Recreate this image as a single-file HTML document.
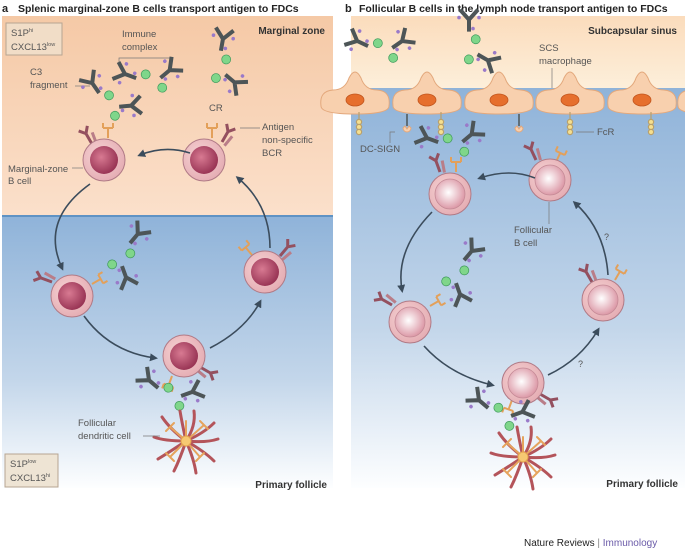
<!DOCTYPE html>
<html><head><meta charset="utf-8"><style>
body{margin:0;background:#fff;width:685px;height:552px;overflow:hidden;font-family:"Liberation Sans",sans-serif}
svg text{font-family:"Liberation Sans",sans-serif}
</style></head><body>
<svg width="685" height="552" viewBox="0 0 685 552" xmlns="http://www.w3.org/2000/svg">
<defs>
<linearGradient id="peach" x1="0" y1="0" x2="0" y2="1"><stop offset="0" stop-color="#f5c9a6"/><stop offset="1" stop-color="#fbe0cb"/></linearGradient>
<linearGradient id="blue" x1="0" y1="0" x2="0" y2="1"><stop offset="0" stop-color="#8fb3d9"/><stop offset="0.6" stop-color="#c3d6ea"/><stop offset="1" stop-color="#fdfeff"/></linearGradient>
<linearGradient id="sinus" x1="0" y1="0" x2="0" y2="1"><stop offset="0" stop-color="#fbdcbc"/><stop offset="1" stop-color="#fdf0dc"/></linearGradient>
<radialGradient id="nucA" cx="0.4" cy="0.4" r="0.6"><stop offset="0" stop-color="#d87a92"/><stop offset="1" stop-color="#9a3656"/></radialGradient>
<radialGradient id="nucB" cx="0.45" cy="0.45" r="0.6"><stop offset="0" stop-color="#ffffff"/><stop offset="1" stop-color="#d9909f"/></radialGradient>
<radialGradient id="cellg" cx="0.4" cy="0.4" r="0.7"><stop offset="0" stop-color="#f6d3d4"/><stop offset="1" stop-color="#e3a9b0"/></radialGradient>
<marker id="ah" markerWidth="8" markerHeight="8" refX="5" refY="4" orient="auto" markerUnits="userSpaceOnUse"><path d="M0,0 L8,4 L0,8 z" fill="#3b4c5c"/></marker>
<g id="cellA"><circle r="21" fill="url(#cellg)" stroke="#b07a86" stroke-width="1"/><circle r="14" fill="url(#nucA)"/></g>
<g id="cellB"><circle r="21" fill="url(#cellg)" stroke="#b07a86" stroke-width="1"/><circle r="15" fill="url(#nucB)" stroke="#c48a96" stroke-width="0.8"/></g>
<g id="bcr" stroke="#94505f" stroke-width="3" fill="none"><path d="M0,0 L0,-12 M0,-12 L-5,-18 M0,-12 L5,-18"/><path d="M4,2 L6,-10" stroke="#b97d88"/></g>
<g id="cr" stroke="#e3a05a" stroke-width="2" fill="none"><path d="M0,0 L0,-10 M-5,-10 L5,-10 M-5,-10 L-5,-15 M5,-10 L5,-15"/></g>
<g id="ab" stroke="#4d5557" stroke-width="4" fill="none" stroke-linecap="butt"><path d="M0,0 L0,-12 L-9,-22 M0,-12 L9,-22"/><circle cx="-10" cy="-14" r="1.8" fill="#9a7ac9" stroke="none"/><circle cx="10" cy="-14" r="1.8" fill="#9a7ac9" stroke="none"/><circle cx="4" cy="-3" r="1.8" fill="#9a7ac9" stroke="none"/></g>
<g id="ag"><circle r="4.5" fill="#7fd68a" stroke="#3f9a5c" stroke-width="0.7"/></g>
<g id="ic"><use href="#ab" transform="translate(-12,0) rotate(-60)"/><use href="#ab" transform="translate(12,4) rotate(60)"/><use href="#ag" x="-2" y="-2"/><use href="#ag" x="12" y="14"/></g>
<g id="fdc" fill="none" stroke="#b4545a" stroke-width="3" stroke-linecap="round">
<path d="M0,0 Q10,-15 8,-30 M0,0 Q18,-8 28,-18 M0,0 Q20,2 32,-2 M0,0 Q18,10 28,20 M0,0 Q8,18 10,32 M0,0 Q-6,18 -12,30 M0,0 Q-18,12 -28,18 M0,0 Q-22,0 -32,-4 M0,0 Q-16,-12 -24,-24 M0,0 Q-4,-18 -6,-30"/>
<g stroke="#e5a35c" stroke-width="2"><path d="M0,0 L18,-16 M14,-20 L22,-12 M0,0 L-16,16 M-20,12 L-12,20 M0,0 L-16,-14 M-20,-10 L-12,-18 M0,0 L14,16 M10,20 L18,12 M0,0 L0,-20"/></g>
<circle r="5" fill="#f6c972" stroke="#e2a24f" stroke-width="1"/></g>
<g id="mac"><path d="M-34,20 Q-36,5 -22,4 Q-10,4 -6,-8 Q0,-20 6,-8 Q10,4 22,4 Q36,5 34,20 Q34,28 0,28 Q-34,28 -34,20z" fill="#f8d0ae" stroke="#e3a87c" stroke-width="1"/><ellipse cx="0" cy="14" rx="9" ry="6" fill="#e66f2d" stroke="#c2561e" stroke-width="0.8"/></g>
<g id="fcr" stroke="#b9a06b" stroke-width="1.2"><line x1="0" y1="0" x2="0" y2="8"/><circle cy="10" r="2.6" fill="#f5df8f"/><circle cy="15" r="2.6" fill="#f5df8f"/><circle cy="20" r="2.6" fill="#f5df8f"/></g>
<g id="dcs"><line x1="0" y1="0" x2="0" y2="12" stroke="#4d5557" stroke-width="1.5"/><path d="M-4,14 A4,4 0 1,0 4,14 L2,12 L0,15 L-2,12z" fill="#f8d0ae" stroke="#e3a87c" stroke-width="1"/></g>
</defs>

<!-- Panel a -->
<rect x="2" y="16" width="331" height="200" fill="url(#peach)"/>
<rect x="2" y="216" width="331" height="272" fill="url(#blue)"/>
<line x1="2" y1="216" x2="333" y2="216" stroke="#5f93c4" stroke-width="2"/>
<text x="2" y="12" font-size="11" font-weight="bold" fill="#222">a</text>
<text x="18" y="12" font-size="10.5" font-weight="bold" fill="#222">Splenic marginal-zone B cells transport antigen to FDCs</text>
<rect x="6" y="23" width="56" height="32" fill="#f1ddc7" stroke="#b7a592"/>
<text x="11" y="36" font-size="9.5" fill="#555">S1P<tspan font-size="5.5" dy="-4">hi</tspan></text>
<text x="11" y="50" font-size="9.5" fill="#555">CXCL13<tspan font-size="5.5" dy="-4">low</tspan></text>
<text x="325" y="34" font-size="10" font-weight="bold" fill="#333" text-anchor="end">Marginal zone</text>
<text x="122" y="37" font-size="9.5" fill="#555">Immune</text>
<text x="122" y="50" font-size="9.5" fill="#555">complex</text>
<path d="M119,62 L119,58 L171,58 L171,62" fill="none" stroke="#777" stroke-width="0.7"/>
<text x="30" y="75" font-size="9.5" fill="#555">C3</text>
<text x="30" y="88" font-size="9.5" fill="#555">fragment</text>
<line x1="75" y1="86" x2="90" y2="86" stroke="#777" stroke-width="0.7"/>
<use href="#ic" transform="translate(148,76) rotate(-10)"/>
<use href="#ic" transform="translate(225,62) rotate(70)"/>
<use href="#ic" transform="translate(110,98) rotate(25)"/>
<text x="209" y="111" font-size="9.5" fill="#555">CR</text>
<text x="262" y="130" font-size="9.5" fill="#555">Antigen</text>
<text x="262" y="143" font-size="9.5" fill="#555">non-specific</text>
<text x="262" y="156" font-size="9.5" fill="#555">BCR</text>
<line x1="240" y1="128" x2="260" y2="128" stroke="#777" stroke-width="0.7"/>
<text x="8" y="172" font-size="9.5" fill="#555">Marginal-zone</text>
<text x="8" y="184" font-size="9.5" fill="#555">B cell</text>
<line x1="72" y1="168" x2="83" y2="168" stroke="#777" stroke-width="0.7"/>
<use href="#cr" transform="translate(108,138)"/>
<use href="#bcr" transform="translate(92,144) rotate(-30)"/>
<use href="#cr" transform="translate(212,138)"/>
<use href="#bcr" transform="translate(222,142) rotate(30)"/>
<use href="#cellA" x="104" y="160"/>
<use href="#cellA" x="204" y="160"/>
<path d="M190,153 Q165,145 140,155" fill="none" stroke="#3b4c5c" stroke-width="1.6" marker-end="url(#ah)"/>
<path d="M90,184 Q40,220 62,268" fill="none" stroke="#3b4c5c" stroke-width="1.6" marker-end="url(#ah)"/>
<path d="M270,248 Q270,205 238,178" fill="none" stroke="#3b4c5c" stroke-width="1.6" marker-end="url(#ah)"/>
<path d="M84,316 Q110,352 155,358" fill="none" stroke="#3b4c5c" stroke-width="1.6" marker-end="url(#ah)"/>
<path d="M210,348 Q245,330 260,302" fill="none" stroke="#3b4c5c" stroke-width="1.6" marker-end="url(#ah)"/>
<use href="#bcr" transform="translate(52,282) rotate(-70)"/>
<use href="#cr" transform="translate(92,284) rotate(60)"/>
<use href="#ic" transform="translate(128,255) rotate(100)"/>
<use href="#cellA" x="72" y="296"/>
<use href="#cr" transform="translate(252,255) rotate(-40)"/>
<use href="#bcr" transform="translate(280,256) rotate(40)"/>
<use href="#cellA" x="265" y="272"/>
<use href="#bcr" transform="translate(200,367) rotate(120)"/>
<use href="#cr" transform="translate(172,376) rotate(200)"/>
<use href="#cellA" x="184" y="356"/>
<use href="#ic" transform="translate(170,390) rotate(10)"/>
<use href="#fdc" transform="translate(186,441)"/>
<text x="78" y="426" font-size="9.5" fill="#555">Follicular</text>
<text x="78" y="439" font-size="9.5" fill="#555">dendritic cell</text>
<line x1="143" y1="436" x2="160" y2="436" stroke="#777" stroke-width="0.7"/>
<rect x="5" y="454" width="53" height="33" fill="#eee4d4" stroke="#b7a592"/>
<text x="10" y="467" font-size="9.5" fill="#555">S1P<tspan font-size="5.5" dy="-4">low</tspan></text>
<text x="10" y="481" font-size="9.5" fill="#555">CXCL13<tspan font-size="5.5" dy="-4">hi</tspan></text>
<text x="327" y="488" font-size="10" font-weight="bold" fill="#333" text-anchor="end">Primary follicle</text>

<!-- Panel b -->
<rect x="351" y="16" width="334" height="76" fill="url(#sinus)"/>
<rect x="351" y="88" width="334" height="400" fill="url(#blue)"/>
<text x="345" y="12" font-size="11" font-weight="bold" fill="#222">b</text>
<text x="359" y="12" font-size="10.5" font-weight="bold" fill="#222">Follicular B cells in the lymph node transport antigen to FDCs</text>
<text x="677" y="34" font-size="10" font-weight="bold" fill="#333" text-anchor="end">Subcapsular sinus</text>
<text x="539" y="51" font-size="9.5" fill="#555">SCS</text>
<text x="539" y="64" font-size="9.5" fill="#555">macrophage</text>
<line x1="552" y1="68" x2="552" y2="88" stroke="#777" stroke-width="0.7"/>
<use href="#ic" transform="translate(380,45) rotate(-5)"/>
<use href="#ic" transform="translate(475,42) rotate(60)"/>
<use href="#mac" transform="translate(355,86)"/>
<use href="#mac" transform="translate(427,86)"/>
<use href="#mac" transform="translate(499,86)"/>
<use href="#mac" transform="translate(570,86)"/>
<use href="#mac" transform="translate(642,86)"/>
<use href="#mac" transform="translate(712,86)"/>
<use href="#fcr" transform="translate(359,112)"/>
<use href="#dcs" transform="translate(407,114)"/>
<use href="#fcr" transform="translate(441,112)"/>
<use href="#dcs" transform="translate(519,114)"/>
<use href="#fcr" transform="translate(570,112)"/>
<use href="#fcr" transform="translate(651,112)"/>
<text x="360" y="152" font-size="9.5" fill="#555">DC-SIGN</text>
<path d="M395,132 L390,132 L390,143" fill="none" stroke="#777" stroke-width="0.7"/>
<text x="597" y="135" font-size="9.5" fill="#555">FcR</text>
<line x1="576" y1="132" x2="594" y2="132" stroke="#777" stroke-width="0.7"/>
<use href="#ic" transform="translate(450,140) rotate(-10)"/>
<use href="#bcr" transform="translate(440,172) rotate(-20)"/>
<use href="#cr" transform="translate(456,172)"/>
<use href="#cellB" x="450" y="194"/>
<use href="#bcr" transform="translate(536,160) rotate(-25)"/>
<use href="#cr" transform="translate(556,162) rotate(25)"/>
<use href="#cellB" x="550" y="180"/>
<path d="M535,178 Q510,168 480,178" fill="none" stroke="#3b4c5c" stroke-width="1.6" marker-end="url(#ah)"/>
<text x="514" y="233" font-size="9.5" fill="#555">Follicular</text>
<text x="514" y="246" font-size="9.5" fill="#555">B cell</text>
<line x1="549" y1="202" x2="549" y2="224" stroke="#777" stroke-width="0.7"/>
<path d="M432,212 Q395,250 402,290" fill="none" stroke="#3b4c5c" stroke-width="1.6" marker-end="url(#ah)"/>
<path d="M608,275 Q605,230 575,203" fill="none" stroke="#3b4c5c" stroke-width="1.6" marker-end="url(#ah)"/>
<text x="604" y="240" font-size="9" fill="#555">?</text>
<use href="#bcr" transform="translate(392,305) rotate(-60)"/>
<use href="#cr" transform="translate(430,306) rotate(60)"/>
<use href="#ic" transform="translate(462,272) rotate(100)"/>
<use href="#cellB" x="410" y="322"/>
<use href="#bcr" transform="translate(592,282) rotate(-30)"/>
<use href="#cr" transform="translate(615,280) rotate(30)"/>
<use href="#cellB" x="603" y="300"/>
<path d="M424,346 Q450,375 492,385" fill="none" stroke="#3b4c5c" stroke-width="1.6" marker-end="url(#ah)"/>
<path d="M548,375 Q580,360 598,330" fill="none" stroke="#3b4c5c" stroke-width="1.6" marker-end="url(#ah)"/>
<text x="578" y="367" font-size="9" fill="#555">?</text>
<use href="#bcr" transform="translate(540,394) rotate(120)"/>
<use href="#cr" transform="translate(512,400) rotate(200)"/>
<use href="#cellB" x="523" y="383"/>
<use href="#ic" transform="translate(500,410) rotate(10)"/>
<use href="#fdc" transform="translate(523,457)"/>
<text x="678" y="487" font-size="10" font-weight="bold" fill="#333" text-anchor="end">Primary follicle</text>

<text x="524" y="546" font-size="10" fill="#222">Nature Reviews <tspan fill="#888">|</tspan> <tspan fill="#6a5aa8">Immunology</tspan></text>
</svg>
</body></html>
